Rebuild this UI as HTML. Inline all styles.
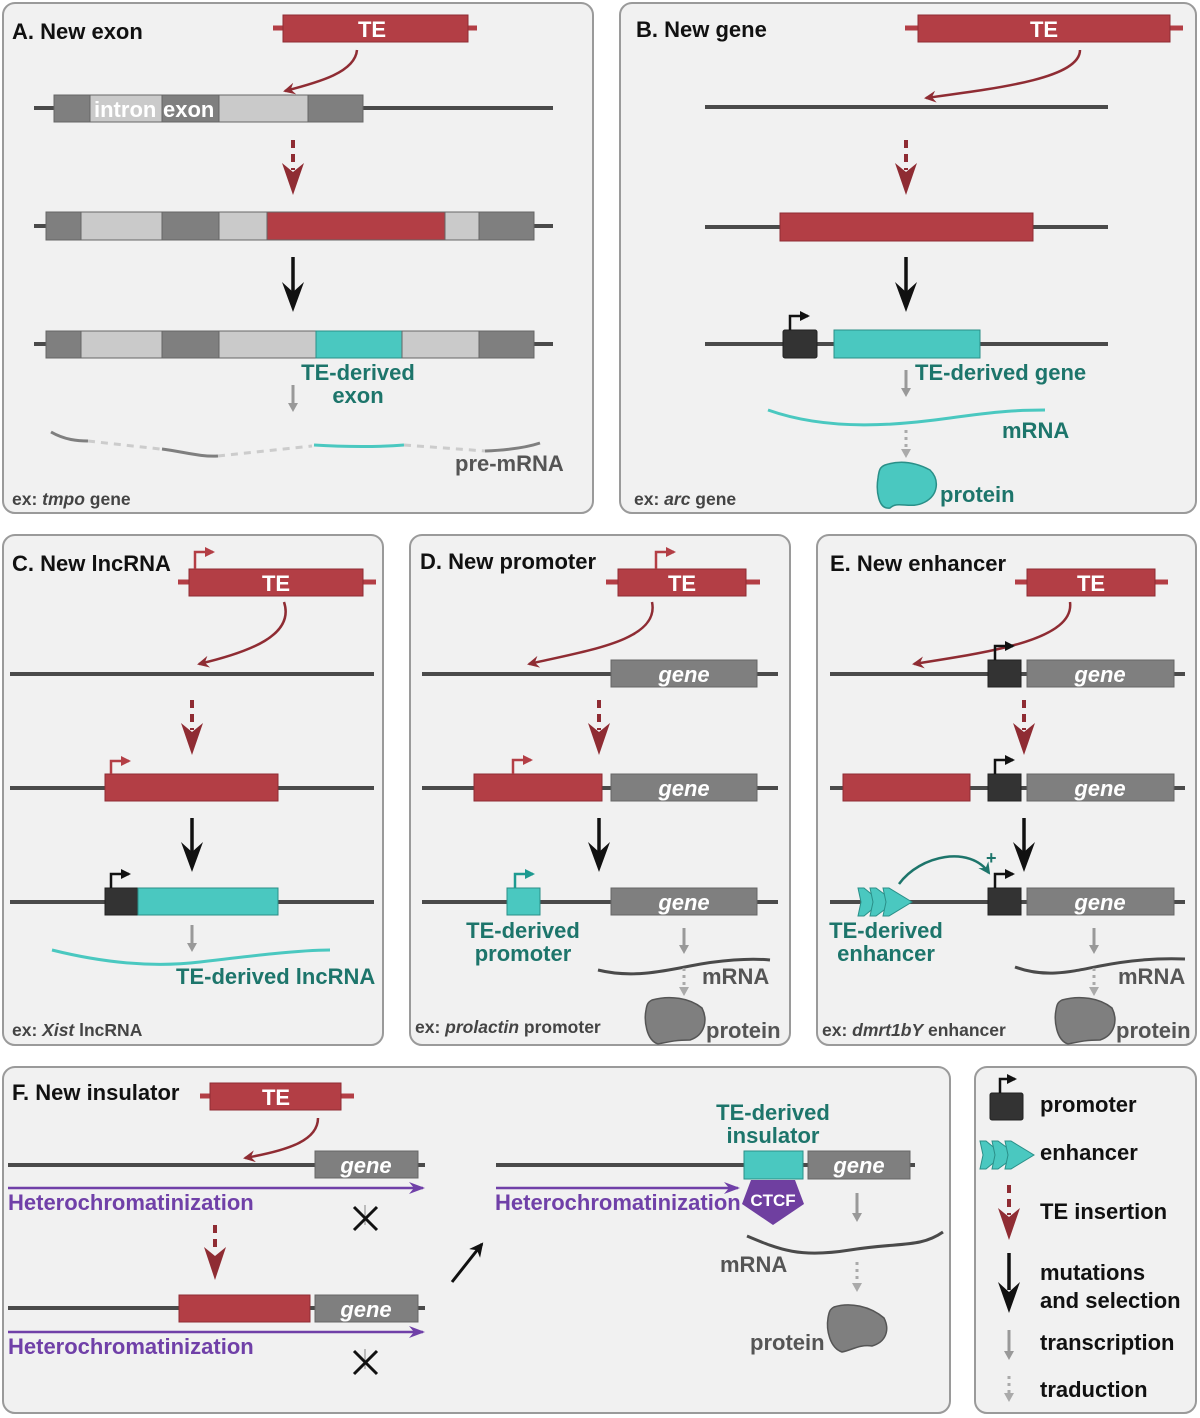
<!DOCTYPE html>
<html><head><meta charset="utf-8"><style>
html,body{margin:0;padding:0;background:#fff}
svg{display:block;font-family:"Liberation Sans",Arial,sans-serif;font-weight:bold}
.t{font-size:22px;fill:#111}
.ex{font-size:17.5px;fill:#444}
.tl{font-size:22px;fill:#1d756b}
.gr{font-size:22px;fill:#555}
.wt{font-size:22px;fill:#fff}
.gn{font-size:22px;fill:#fff;font-style:italic}
.pu{font-size:22px;fill:#7040a8}
.lg{font-size:22px;fill:#111}
</style></head><body>
<svg width="1200" height="1418" viewBox="0 0 1200 1418" xmlns="http://www.w3.org/2000/svg">
<defs>
<marker id="mr" markerWidth="14" markerHeight="14" refX="10" refY="6" orient="auto" markerUnits="userSpaceOnUse"><path d="M0,0 L12,6 L0,12 L4,6z" fill="#8f2c33"/></marker>
<marker id="mt" markerWidth="14" markerHeight="14" refX="10" refY="6" orient="auto" markerUnits="userSpaceOnUse"><path d="M0,0 L12,6 L0,12 L4,6z" fill="#1d756b"/></marker>
<marker id="mp" markerWidth="16" markerHeight="14" refX="14" refY="6" orient="auto" markerUnits="userSpaceOnUse"><path d="M0,0 L16,6 L0,12 L5,6z" fill="#7040a8"/></marker>
<marker id="mb" markerWidth="16" markerHeight="16" refX="12" refY="7" orient="auto" markerUnits="userSpaceOnUse"><path d="M0,0 L14,7 L0,14 L4,7z" fill="#111"/></marker>
<marker id="fk" markerWidth="10" markerHeight="10" refX="8" refY="5" orient="auto" markerUnits="userSpaceOnUse"><path d="M0,0 L10,5 L0,10z" fill="#111"/></marker>
<marker id="fr" markerWidth="10" markerHeight="10" refX="8" refY="5" orient="auto" markerUnits="userSpaceOnUse"><path d="M0,0 L10,5 L0,10z" fill="#b33e45"/></marker>
<marker id="ft" markerWidth="10" markerHeight="10" refX="8" refY="5" orient="auto" markerUnits="userSpaceOnUse"><path d="M0,0 L10,5 L0,10z" fill="#1d9a90"/></marker>
</defs>

<g fill="#f1f1f1" stroke="#9a9a9a" stroke-width="2">
<rect x="3" y="3" width="590" height="510" rx="12"/>
<rect x="620" y="3" width="576" height="510" rx="12"/>
<rect x="3" y="535" width="380" height="510" rx="12"/>
<rect x="410" y="535" width="380" height="510" rx="12"/>
<rect x="817" y="535" width="379" height="510" rx="12"/>
<rect x="3" y="1067" width="947" height="346" rx="12"/>
<rect x="975" y="1067" width="221" height="346" rx="12"/>
</g>

<!-- ===== A ===== -->
<text class="t" x="12" y="39">A. New exon</text>
<line x1="273" y1="28" x2="477" y2="28" stroke="#b33e45" stroke-width="5"/>
<rect x="283" y="15" width="185" height="27" fill="#b33e45" stroke="#8f2c33"/>
<text class="wt" x="372" y="37" text-anchor="middle">TE</text>
<path d="M357,50 C355,72 320,82 285,91" fill="none" stroke="#8f2c33" stroke-width="2.5" marker-end="url(#mr)"/>
<line x1="34" y1="108" x2="553" y2="108" stroke="#4a4a4a" stroke-width="4"/>
<g stroke="#666" stroke-width="1">
<rect x="54" y="95" width="36" height="27" fill="#7f7f7f"/><rect x="90" y="95" width="72" height="27" fill="#cacaca"/><rect x="162" y="95" width="57" height="27" fill="#7f7f7f"/><rect x="219" y="95" width="89" height="27" fill="#cacaca"/><rect x="308" y="95" width="55" height="27" fill="#7f7f7f"/>
</g>
<text class="wt" x="94" y="117">intron</text><text class="wt" x="163" y="117">exon</text>
<line x1="293" y1="140" x2="293" y2="170" stroke="#8f2c33" stroke-width="4" stroke-dasharray="8,6"/>
<polygon points="282,163 293,172 304,163 293,195" fill="#8f2c33"/>
<line x1="34" y1="226" x2="553" y2="226" stroke="#4a4a4a" stroke-width="4"/>
<g stroke="#666" stroke-width="1">
<rect x="46" y="212" width="35" height="28" fill="#7f7f7f"/><rect x="81" y="212" width="81" height="28" fill="#cacaca"/><rect x="162" y="212" width="57" height="28" fill="#7f7f7f"/><rect x="219" y="212" width="48" height="28" fill="#cacaca"/><rect x="267" y="212" width="178" height="28" fill="#b33e45"/><rect x="445" y="212" width="34" height="28" fill="#cacaca"/><rect x="479" y="212" width="55" height="28" fill="#7f7f7f"/>
</g>
<line x1="293" y1="257" x2="293" y2="292" stroke="#111" stroke-width="3.5"/>
<polygon points="282,282 293,292 304,282 293,312" fill="#111"/>
<line x1="34" y1="344" x2="553" y2="344" stroke="#4a4a4a" stroke-width="4"/>
<g stroke="#666" stroke-width="1">
<rect x="46" y="331" width="35" height="27" fill="#7f7f7f"/><rect x="81" y="331" width="81" height="27" fill="#cacaca"/><rect x="162" y="331" width="57" height="27" fill="#7f7f7f"/><rect x="219" y="331" width="97" height="27" fill="#cacaca"/><rect x="316" y="331" width="86" height="27" fill="#4ac8c0" stroke="#2a8f88"/><rect x="402" y="331" width="77" height="27" fill="#cacaca"/><rect x="479" y="331" width="55" height="27" fill="#7f7f7f"/>
</g>
<text class="tl" x="358" y="380" text-anchor="middle">TE-derived</text>
<text class="tl" x="358" y="403" text-anchor="middle">exon</text>
<line x1="293" y1="385" x2="293" y2="404" stroke="#999" stroke-width="3"/><polygon points="288,403 298,403 293,412" fill="#999"/>
<path d="M51,432 C65,440 78,441 88,441" fill="none" stroke="#7f7f7f" stroke-width="3"/>
<path d="M88,441 L160,449" fill="none" stroke="#ccc" stroke-width="3" stroke-dasharray="7,6"/>
<path d="M162,449 C185,452 200,457 218,456" fill="none" stroke="#7f7f7f" stroke-width="3"/>
<path d="M218,456 L312,446" fill="none" stroke="#ccc" stroke-width="3" stroke-dasharray="7,6"/>
<path d="M314,445 C345,447 380,447 404,445" fill="none" stroke="#4ac8c0" stroke-width="3"/>
<path d="M404,445 L485,451" fill="none" stroke="#ccc" stroke-width="3" stroke-dasharray="7,6"/>
<path d="M485,451 C510,450 528,447 540,443" fill="none" stroke="#7f7f7f" stroke-width="3"/>
<text class="gr" x="455" y="471">pre-mRNA</text>
<text class="ex" x="12" y="505">ex: <tspan font-style="italic">tmpo</tspan> gene</text>

<!-- ===== B ===== -->
<text class="t" x="636" y="37">B. New gene</text>
<line x1="905" y1="28" x2="1183" y2="28" stroke="#b33e45" stroke-width="5"/>
<rect x="918" y="15" width="252" height="27" fill="#b33e45" stroke="#8f2c33"/>
<text class="wt" x="1044" y="37" text-anchor="middle">TE</text>
<path d="M1080,50 C1080,78 1000,88 926,98" fill="none" stroke="#8f2c33" stroke-width="2.5" marker-end="url(#mr)"/>
<line x1="705" y1="107" x2="1108" y2="107" stroke="#4a4a4a" stroke-width="4"/>
<line x1="906" y1="140" x2="906" y2="170" stroke="#8f2c33" stroke-width="4" stroke-dasharray="8,6"/>
<polygon points="895,163 906,172 917,163 906,195" fill="#8f2c33"/>
<line x1="705" y1="227" x2="1108" y2="227" stroke="#4a4a4a" stroke-width="4"/>
<rect x="780" y="213" width="253" height="28" fill="#b33e45" stroke="#8f2c33"/>
<line x1="906" y1="257" x2="906" y2="292" stroke="#111" stroke-width="3.5"/>
<polygon points="895,282 906,292 917,282 906,312" fill="#111"/>
<line x1="705" y1="344" x2="1108" y2="344" stroke="#4a4a4a" stroke-width="4"/>
<rect x="783" y="330" width="34" height="28" fill="#333" stroke="#222" rx="2"/>
<path d="M790,330 V316 H808" fill="none" stroke="#111" stroke-width="2.5" marker-end="url(#fk)"/>
<rect x="834" y="330" width="146" height="28" fill="#4ac8c0" stroke="#2a8f88"/>
<text class="tl" x="915" y="380">TE-derived gene</text>
<line x1="906" y1="370" x2="906" y2="389" stroke="#999" stroke-width="3"/><polygon points="901,388 911,388 906,397" fill="#999"/>
<path d="M768,410 C830,432 900,425 950,418 S1020,410 1045,410" fill="none" stroke="#4ac8c0" stroke-width="3"/>
<text class="tl" x="1002" y="438">mRNA</text>
<line x1="906" y1="430" x2="906" y2="450" stroke="#aaa" stroke-width="3" stroke-dasharray="3,4"/><polygon points="901,449 911,449 906,458" fill="#aaa"/>
<path d="M885,465 C900,460 915,462 930,470 C940,480 938,495 925,502 C910,510 898,500 890,508 C878,510 876,490 878,478 C879,470 880,467 885,465z" fill="#4ac8c0" stroke="#2a8f88" stroke-width="1.5"/>
<text class="tl" x="940" y="502">protein</text>
<text class="ex" x="634" y="505">ex: <tspan font-style="italic">arc</tspan> gene</text>

<!-- ===== C ===== -->
<text class="t" x="12" y="571">C. New lncRNA</text>
<line x1="178" y1="582" x2="376" y2="582" stroke="#b33e45" stroke-width="5"/>
<rect x="189" y="569" width="174" height="27" fill="#b33e45" stroke="#8f2c33"/>
<path d="M195,569 V552 H213" fill="none" stroke="#b33e45" stroke-width="2.5" marker-end="url(#fr)"/>
<text class="wt" x="276" y="591" text-anchor="middle">TE</text>
<path d="M284,602 C295,635 250,652 199,664" fill="none" stroke="#8f2c33" stroke-width="2.5" marker-end="url(#mr)"/>
<line x1="10" y1="674" x2="374" y2="674" stroke="#4a4a4a" stroke-width="4"/>
<line x1="192" y1="700" x2="192" y2="730" stroke="#8f2c33" stroke-width="4" stroke-dasharray="8,6"/>
<polygon points="181,723 192,732 203,723 192,755" fill="#8f2c33"/>
<line x1="10" y1="788" x2="374" y2="788" stroke="#4a4a4a" stroke-width="4"/>
<rect x="105" y="774" width="173" height="27" fill="#b33e45" stroke="#8f2c33"/>
<path d="M111,774 V761 H129" fill="none" stroke="#b33e45" stroke-width="2.5" marker-end="url(#fr)"/>
<line x1="192" y1="818" x2="192" y2="852" stroke="#111" stroke-width="3.5"/>
<polygon points="181,842 192,852 203,842 192,872" fill="#111"/>
<line x1="10" y1="902" x2="374" y2="902" stroke="#4a4a4a" stroke-width="4"/>
<rect x="105" y="888" width="33" height="27" fill="#333" stroke="#222"/>
<rect x="138" y="888" width="140" height="27" fill="#4ac8c0" stroke="#2a8f88"/>
<path d="M111,888 V874 H129" fill="none" stroke="#111" stroke-width="2.5" marker-end="url(#fk)"/>
<line x1="192" y1="925" x2="192" y2="944" stroke="#999" stroke-width="3"/><polygon points="187,943 197,943 192,952" fill="#999"/>
<path d="M52,950 C100,962 150,968 200,962 S300,950 330,950" fill="none" stroke="#4ac8c0" stroke-width="3"/>
<text class="tl" x="176" y="984">TE-derived lncRNA</text>
<text class="ex" x="12" y="1036">ex: <tspan font-style="italic">Xist</tspan> lncRNA</text>

<!-- ===== D ===== -->
<text class="t" x="420" y="569">D. New promoter</text>
<line x1="606" y1="582" x2="760" y2="582" stroke="#b33e45" stroke-width="5"/>
<rect x="618" y="569" width="128" height="27" fill="#b33e45" stroke="#8f2c33"/>
<path d="M656,569 V552 H674" fill="none" stroke="#b33e45" stroke-width="2.5" marker-end="url(#fr)"/>
<text class="wt" x="682" y="591" text-anchor="middle">TE</text>
<path d="M652,602 C660,640 590,650 529,664" fill="none" stroke="#8f2c33" stroke-width="2.5" marker-end="url(#mr)"/>
<line x1="422" y1="674" x2="778" y2="674" stroke="#4a4a4a" stroke-width="4"/>
<rect x="611" y="660" width="146" height="27" fill="#7f7f7f" stroke="#666"/><text class="gn" x="684" y="682" text-anchor="middle">gene</text>
<line x1="599" y1="700" x2="599" y2="730" stroke="#8f2c33" stroke-width="4" stroke-dasharray="8,6"/>
<polygon points="588,723 599,732 610,723 599,755" fill="#8f2c33"/>
<line x1="422" y1="788" x2="778" y2="788" stroke="#4a4a4a" stroke-width="4"/>
<rect x="474" y="774" width="128" height="27" fill="#b33e45" stroke="#8f2c33"/>
<path d="M513,774 V760 H531" fill="none" stroke="#b33e45" stroke-width="2.5" marker-end="url(#fr)"/>
<rect x="611" y="774" width="146" height="27" fill="#7f7f7f" stroke="#666"/><text class="gn" x="684" y="796" text-anchor="middle">gene</text>
<line x1="599" y1="818" x2="599" y2="852" stroke="#111" stroke-width="3.5"/>
<polygon points="588,842 599,852 610,842 599,872" fill="#111"/>
<line x1="422" y1="902" x2="778" y2="902" stroke="#4a4a4a" stroke-width="4"/>
<rect x="507" y="888" width="33" height="27" fill="#4ac8c0" stroke="#2a8f88"/>
<path d="M515,888 V874 H533" fill="none" stroke="#1d9a90" stroke-width="2.5" marker-end="url(#ft)"/>
<rect x="611" y="888" width="146" height="27" fill="#7f7f7f" stroke="#666"/><text class="gn" x="684" y="910" text-anchor="middle">gene</text>
<text class="tl" x="523" y="938" text-anchor="middle">TE-derived</text>
<text class="tl" x="523" y="961" text-anchor="middle">promoter</text>
<line x1="684" y1="928" x2="684" y2="946" stroke="#999" stroke-width="3"/><polygon points="679,945 689,945 684,954" fill="#999"/>
<path d="M598,970 C630,978 660,972 690,966 S750,958 770,960" fill="none" stroke="#4a4a4a" stroke-width="3"/>
<text class="gr" x="702" y="984">mRNA</text>
<line x1="684" y1="968" x2="684" y2="988" stroke="#aaa" stroke-width="3" stroke-dasharray="3,4"/><polygon points="679,987 689,987 684,996" fill="#aaa"/>
<path d="M652,1000 C670,995 690,998 702,1008 C708,1020 705,1035 690,1040 C675,1040 668,1042 658,1044 C646,1040 644,1020 646,1010 C647,1004 648,1002 652,1000z" fill="#7f7f7f" stroke="#555" stroke-width="1.5"/>
<text class="gr" x="706" y="1038">protein</text>
<text class="ex" x="415" y="1033">ex: <tspan font-style="italic">prolactin</tspan> promoter</text>

<!-- ===== E ===== -->
<text class="t" x="830" y="571">E. New enhancer</text>
<line x1="1015" y1="582" x2="1168" y2="582" stroke="#b33e45" stroke-width="5"/>
<rect x="1027" y="569" width="128" height="27" fill="#b33e45" stroke="#8f2c33"/>
<text class="wt" x="1091" y="591" text-anchor="middle">TE</text>
<path d="M1070,602 C1075,640 990,652 914,664" fill="none" stroke="#8f2c33" stroke-width="2.5" marker-end="url(#mr)"/>
<line x1="830" y1="674" x2="1185" y2="674" stroke="#4a4a4a" stroke-width="4"/>
<rect x="988" y="660" width="33" height="27" fill="#333" stroke="#222"/>
<path d="M995,660 V646 H1013" fill="none" stroke="#111" stroke-width="2.5" marker-end="url(#fk)"/>
<rect x="1027" y="660" width="147" height="27" fill="#7f7f7f" stroke="#666"/><text class="gn" x="1100" y="682" text-anchor="middle">gene</text>
<line x1="1024" y1="700" x2="1024" y2="730" stroke="#8f2c33" stroke-width="4" stroke-dasharray="8,6"/>
<polygon points="1013,723 1024,732 1035,723 1024,755" fill="#8f2c33"/>
<line x1="830" y1="788" x2="1185" y2="788" stroke="#4a4a4a" stroke-width="4"/>
<rect x="843" y="774" width="127" height="27" fill="#b33e45" stroke="#8f2c33"/>
<rect x="988" y="774" width="33" height="27" fill="#333" stroke="#222"/>
<path d="M995,774 V760 H1013" fill="none" stroke="#111" stroke-width="2.5" marker-end="url(#fk)"/>
<rect x="1027" y="774" width="147" height="27" fill="#7f7f7f" stroke="#666"/><text class="gn" x="1100" y="796" text-anchor="middle">gene</text>
<line x1="1024" y1="818" x2="1024" y2="852" stroke="#111" stroke-width="3.5"/>
<polygon points="1013,842 1024,852 1035,842 1024,872" fill="#111"/>
<line x1="830" y1="902" x2="1185" y2="902" stroke="#4a4a4a" stroke-width="4"/>
<g fill="#4ac8c0" stroke="#2a8f88" stroke-width="1">
<path d="M858,888 L864,888 L881,902 L864,916 L858,916 L861,902z"/>
<path d="M870,888 L876,888 L895,902 L876,916 L870,916 L873,902z"/>
<path d="M883,888 L889,888 L912,902 L889,916 L883,916 L886,902z"/>
</g>
<path d="M899,884 C920,855 970,845 989,873" fill="none" stroke="#1d756b" stroke-width="2.5" marker-end="url(#mt)"/>
<text x="986" y="864" font-size="18" fill="#1d756b">+</text>
<rect x="988" y="888" width="33" height="27" fill="#333" stroke="#222"/>
<path d="M995,888 V874 H1013" fill="none" stroke="#111" stroke-width="2.5" marker-end="url(#fk)"/>
<rect x="1027" y="888" width="147" height="27" fill="#7f7f7f" stroke="#666"/><text class="gn" x="1100" y="910" text-anchor="middle">gene</text>
<text class="tl" x="886" y="938" text-anchor="middle">TE-derived</text>
<text class="tl" x="886" y="961" text-anchor="middle">enhancer</text>
<line x1="1094" y1="928" x2="1094" y2="946" stroke="#999" stroke-width="3"/><polygon points="1089,945 1099,945 1094,954" fill="#999"/>
<path d="M1015,967 C1045,978 1070,972 1100,966 S1160,958 1185,959" fill="none" stroke="#4a4a4a" stroke-width="3"/>
<text class="gr" x="1118" y="984">mRNA</text>
<line x1="1094" y1="968" x2="1094" y2="988" stroke="#aaa" stroke-width="3" stroke-dasharray="3,4"/><polygon points="1089,987 1099,987 1094,996" fill="#aaa"/>
<path d="M1062,1000 C1080,995 1100,998 1112,1008 C1118,1020 1115,1035 1100,1040 C1085,1040 1078,1042 1068,1044 C1056,1040 1054,1020 1056,1010 C1057,1004 1058,1002 1062,1000z" fill="#7f7f7f" stroke="#555" stroke-width="1.5"/>
<text class="gr" x="1116" y="1038">protein</text>
<text class="ex" x="822" y="1036">ex: <tspan font-style="italic">dmrt1bY</tspan> enhancer</text>

<!-- ===== F ===== -->
<text class="t" x="12" y="1100">F. New insulator</text>
<line x1="200" y1="1096" x2="354" y2="1096" stroke="#b33e45" stroke-width="5"/>
<rect x="210" y="1083" width="131" height="27" fill="#b33e45" stroke="#8f2c33"/>
<text class="wt" x="276" y="1105" text-anchor="middle">TE</text>
<path d="M318,1118 C318,1140 290,1150 245,1158" fill="none" stroke="#8f2c33" stroke-width="2.5" marker-end="url(#mr)"/>
<line x1="8" y1="1165" x2="425" y2="1165" stroke="#4a4a4a" stroke-width="4"/>
<rect x="315" y="1151" width="103" height="27" fill="#7f7f7f" stroke="#666"/><text class="gn" x="366" y="1173" text-anchor="middle">gene</text>
<line x1="8" y1="1188" x2="423" y2="1188" stroke="#7040a8" stroke-width="2.5" marker-end="url(#mp)"/>
<text class="pu" x="8" y="1210">Heterochromatinization</text>
<line x1="365" y1="1205" x2="365" y2="1225" stroke="#bbb" stroke-width="2"/>
<path d="M354,1207 L377,1230 M377,1207 L354,1230" stroke="#111" stroke-width="3"/>
<line x1="215" y1="1225" x2="215" y2="1253" stroke="#8f2c33" stroke-width="4" stroke-dasharray="8,6"/>
<polygon points="204,1247 215,1256 226,1247 215,1280" fill="#8f2c33"/>
<line x1="8" y1="1308" x2="425" y2="1308" stroke="#4a4a4a" stroke-width="4"/>
<rect x="179" y="1295" width="131" height="27" fill="#b33e45" stroke="#8f2c33"/>
<rect x="315" y="1295" width="103" height="27" fill="#7f7f7f" stroke="#666"/><text class="gn" x="366" y="1317" text-anchor="middle">gene</text>
<line x1="8" y1="1332" x2="423" y2="1332" stroke="#7040a8" stroke-width="2.5" marker-end="url(#mp)"/>
<text class="pu" x="8" y="1354">Heterochromatinization</text>
<line x1="365" y1="1349" x2="365" y2="1369" stroke="#bbb" stroke-width="2"/>
<path d="M354,1351 L377,1374 M377,1351 L354,1374" stroke="#111" stroke-width="3"/>
<line x1="452" y1="1282" x2="482" y2="1244" stroke="#111" stroke-width="3" marker-end="url(#mb)"/>
<line x1="496" y1="1165" x2="915" y2="1165" stroke="#4a4a4a" stroke-width="4"/>
<rect x="744" y="1151" width="59" height="28" fill="#4ac8c0" stroke="#2a8f88"/>
<rect x="808" y="1151" width="102" height="28" fill="#7f7f7f" stroke="#666"/><text class="gn" x="859" y="1173" text-anchor="middle">gene</text>
<text class="tl" x="773" y="1120" text-anchor="middle">TE-derived</text>
<text class="tl" x="773" y="1143" text-anchor="middle">insulator</text>
<line x1="496" y1="1188" x2="738" y2="1188" stroke="#7040a8" stroke-width="2.5" marker-end="url(#mp)"/>
<text class="pu" x="495" y="1210">Heterochromatinization</text>
<polygon points="751,1180 795,1180 804,1204 773,1225 742,1204" fill="#6f3fa0"/>
<text x="773" y="1206" font-size="17" fill="#fff" text-anchor="middle">CTCF</text>
<line x1="857" y1="1193" x2="857" y2="1214" stroke="#999" stroke-width="3"/><polygon points="852,1213 862,1213 857,1222" fill="#999"/>
<path d="M747,1236 C780,1250 800,1258 850,1250 S920,1248 943,1232" fill="none" stroke="#4a4a4a" stroke-width="3"/>
<text class="gr" x="720" y="1272">mRNA</text>
<line x1="857" y1="1262" x2="857" y2="1284" stroke="#aaa" stroke-width="3" stroke-dasharray="3,4"/><polygon points="852,1283 862,1283 857,1292" fill="#aaa"/>
<path d="M834,1307 C850,1302 870,1306 884,1318 C890,1330 886,1342 872,1346 C860,1344 852,1350 842,1352 C830,1348 826,1330 828,1318 C829,1312 830,1309 834,1307z" fill="#7f7f7f" stroke="#555" stroke-width="1.5"/>
<text class="gr" x="750" y="1350">protein</text>

<!-- ===== Legend ===== -->
<rect x="990" y="1093" width="33" height="27" fill="#333" stroke="#222" rx="2"/>
<path d="M1000,1093 V1079 H1015" fill="none" stroke="#111" stroke-width="2.5" marker-end="url(#fk)"/>
<text class="lg" x="1040" y="1112">promoter</text>
<g fill="#4ac8c0" stroke="#2a8f88" stroke-width="1">
<path d="M980,1141 L986,1141 L1003,1155 L986,1169 L980,1169 L983,1155z"/>
<path d="M992,1141 L998,1141 L1017,1155 L998,1169 L992,1169 L995,1155z"/>
<path d="M1005,1141 L1011,1141 L1034,1155 L1011,1169 L1005,1169 L1008,1155z"/>
</g>
<text class="lg" x="1040" y="1160">enhancer</text>
<line x1="1009" y1="1185" x2="1009" y2="1215" stroke="#8f2c33" stroke-width="4" stroke-dasharray="8,6"/>
<polygon points="998,1208 1009,1217 1020,1208 1009,1240" fill="#8f2c33"/>
<text class="lg" x="1040" y="1219">TE insertion</text>
<line x1="1009" y1="1253" x2="1009" y2="1290" stroke="#111" stroke-width="3.5"/>
<polygon points="998,1282 1009,1292 1020,1282 1009,1313" fill="#111"/>
<text class="lg" x="1040" y="1280">mutations</text>
<text class="lg" x="1040" y="1308">and selection</text>
<line x1="1009" y1="1330" x2="1009" y2="1352" stroke="#999" stroke-width="3"/><polygon points="1004,1351 1014,1351 1009,1360" fill="#999"/>
<text class="lg" x="1040" y="1350">transcription</text>
<line x1="1009" y1="1376" x2="1009" y2="1394" stroke="#aaa" stroke-width="3" stroke-dasharray="3,4"/><polygon points="1004,1393 1014,1393 1009,1402" fill="#aaa"/>
<text class="lg" x="1040" y="1397">traduction</text>
</svg>
</body></html>
